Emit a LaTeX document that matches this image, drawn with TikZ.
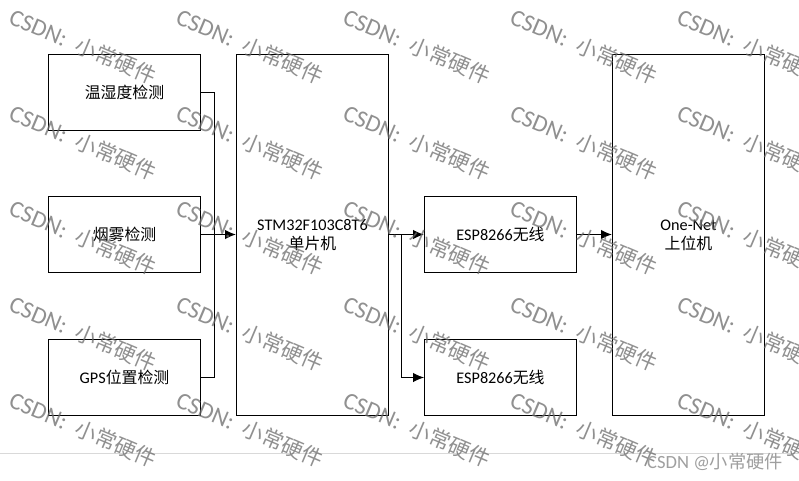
\documentclass[tikz,border=0pt]{standalone}
\usepackage{fontspec}
\setmainfont{Carlito}
\newfontfamily\cjk{Noto Sans CJK SC}[Scale=0.98]
\newfontfamily\cjkwm{Noto Sans CJK SC}[Scale=0.89]
\usetikzlibrary{arrows.meta,positioning}
\definecolor{wmgray}{gray}{0.42}
\tikzset{
  blockbox/.style={draw=black,line width=1pt,fill=white,minimum width=152pt,inner sep=0pt,anchor=center,align=center,font=\fontsize{16.2}{20}\selectfont},
  shortbox/.style={blockbox,minimum height=76.5pt},
  tallbox/.style={blockbox,minimum height=361.5pt},
  wire/.style={draw=black,line width=1pt},
  arrowwire/.style={wire,line width=1.2pt,-{Latex[length=11pt,width=9.5pt]}},
  watermark/.style={text=wmgray,opacity=.75,font=\fontsize{24}{25}\selectfont,rotate=-23,inner sep=0pt,anchor=center},
}
\begin{document}
\begin{tikzpicture}[x=1pt,y=-1pt]
\useasboundingbox (0,0) rectangle (799,481);
\fill[white] (0,0) rectangle (799,481);
\draw[gray!30,line width=.6pt] (0,453.5) -- (799,453.5);

\node[shortbox] (th) at (124.5,92.5) {{\cjk 温湿度检测}};
\node[shortbox] (smoke) at (124.5,234.5) {{\cjk 烟雾检测}};
\node[shortbox] (gps) at (124.5,377.5) {GPS{\cjk 位置检测}};
\node[tallbox] (mcu) at (312.5,235) {STM32F103C8T6\\[-1pt]{\cjk 单片机}};
\node[shortbox] (esp1) at (500.5,234.5) {ESP8266{\cjk 无线}};
\node[shortbox] (esp2) at (500.5,377.5) {ESP8266{\cjk 无线}};
\node[tallbox] (net) at (688.5,235) {One-Net\\[-1pt]{\cjk 上位机}};

\coordinate (busin) at (214.5,234.5);
\coordinate (busout) at (401.5,234.5);
\draw[wire] (th.east) -| (busin);
\draw[wire] (gps.east) -| (busin);
\draw[arrowwire] (smoke.east) -- (smoke.east -| mcu.west);
\draw[arrowwire] (esp1.west -| mcu.east) -- (esp1.west);
\draw[arrowwire,line width=1pt] (busout) |- (esp2.west);
\draw[arrowwire] (esp1.east) -- (esp1.east -| net.west);

\begin{scope}
\clip (0,0) rectangle (799,481);
\foreach \i in {0,...,4} \foreach \j in {0,...,4} {
  \node[watermark] (wm\i\j) at ({83+167*\i},{46.5+95.8*\j}) {CSDN:\hspace{11pt}{\cjkwm 小常硬件}};
}
\end{scope}
\node[text=gray!75!white,font=\fontsize{18.6}{20}\selectfont,inner sep=0pt,anchor=center] (credit) at (715,462) {CSDN @{\cjk 小常硬件}};
\end{tikzpicture}
\end{document}
